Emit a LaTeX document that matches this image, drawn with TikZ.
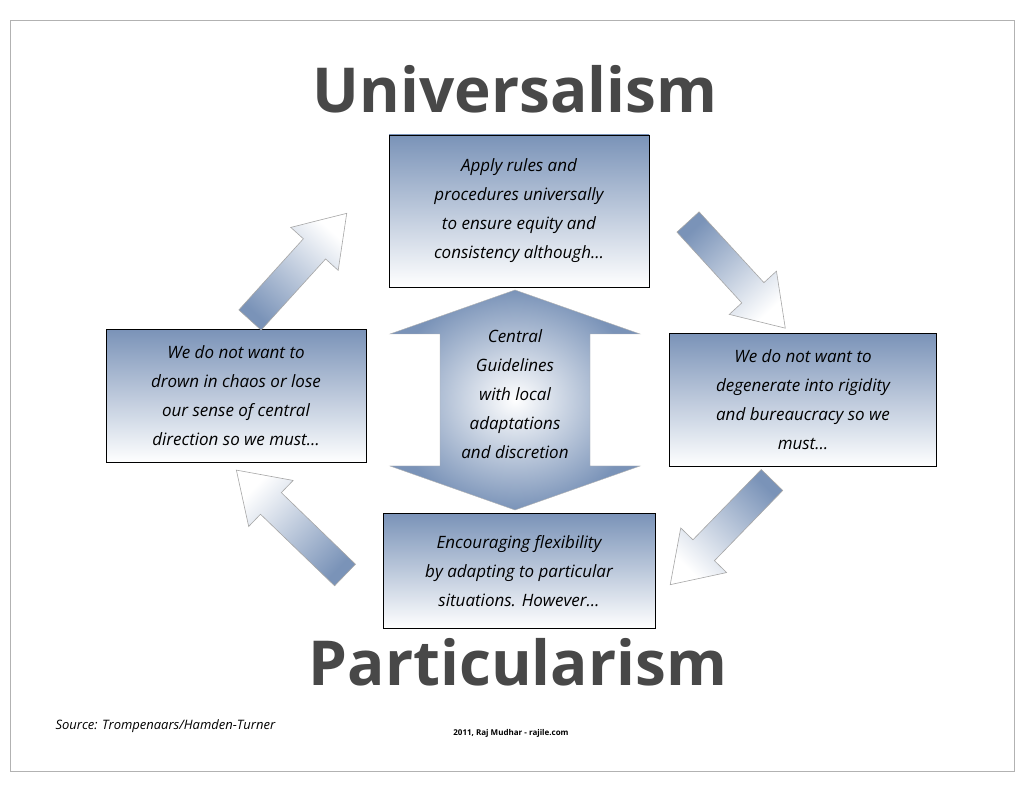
\documentclass[tikz,border=0pt]{standalone}
\usepackage{fontspec}
\setmainfont{Open Sans}
\begin{document}
\begin{tikzpicture}[x=1pt,y=1pt,
  box/.style={draw=black,line width=0.6pt,top color=bluegr,bottom color=white,minimum width=#1,inner sep=2pt,align=center,font=\fontsize{17}{29}\selectfont\itshape},
  arr/.style={draw=gray!70,line width=0.6pt,top color=white,bottom color=bluegr}]
\definecolor{bluegr}{HTML}{7A93B8}
\definecolor{titlegray}{HTML}{484848}
\useasboundingbox (0,0) rectangle (1024,792);
\fill[white] (0,0) rectangle (1024,792);
\draw[gray!60,line width=0.6pt] (10,21) rectangle (1014,772);
\node[font=\fontsize{62}{62}\selectfont\bfseries,text=titlegray] (uni) at (515,703) {Universalism};
\node[font=\fontsize{62}{62}\selectfont\bfseries,text=titlegray] (par) at (518,130) {Particularism};
% center double arrow
\shade[inner color=white,outer color=bluegr,draw=gray!60] (515,502)--(640,458)--(590,458)--(590,326)--(640,326)--(515,282)--(390,326)--(440,326)--(440,458)--(390,458)--cycle;
\node[align=center,font=\fontsize{17}{29}\selectfont\itshape] (c) at (515,398) {Central\\Guidelines\\with local\\adaptations\\and discretion};
% boxes
\node[box=260pt,minimum height=152pt] (top) at (519,581) {Apply rules and\\procedures universally\\to ensure equity and\\consistency although\dots};
\node[box=260pt,minimum height=133pt] (left) at (236,396) {We do not want to\\drown in chaos or lose\\our sense of central\\direction so we must\dots};
\node[box=267pt,minimum height=133pt] (right) at (803,392) {We do not want to\\degenerate into rigidity\\and bureaucracy so we\\must\dots};
\node[box=272pt,minimum height=115pt] (bot) at (519,221) {Encouraging flexibility\\by adapting to particular\\situations. However\dots};
% diagonal arrows
\foreach \x/\y/\a/\L/\s in {250/472/47.8/144/-42, 688/570/-47.5/144/-137.5, 772/312/-134.2/146/136, 345/217/136/151/46}{
  \begin{scope}[shift={(\x,\y)},rotate=\a]
  \path[arr,shading angle=\s] (0,-15)--(\L-48,-15)--(\L-48,-32)--(\L,0)--(\L-48,32)--(\L-48,15)--(0,15)--cycle;
  \end{scope}}
\node[anchor=west,font=\fontsize{13}{13}\selectfont\itshape] (src) at (52,66) {Source: Trompenaars/Hamden-Turner};
\node[font=\fontsize{8}{8}\selectfont\bfseries] (cr) at (511,59) {2011, Raj Mudhar - rajile.com};
\end{tikzpicture}
\end{document}
